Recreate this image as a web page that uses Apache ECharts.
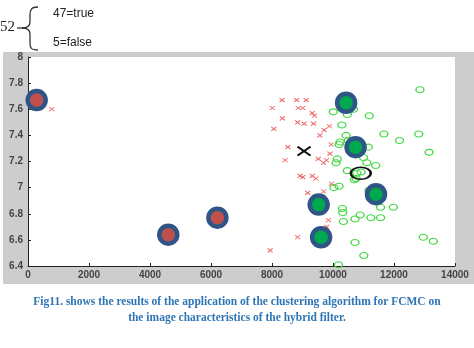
<!DOCTYPE html>
<html>
<head>
<meta charset="utf-8">
<script src="https://cdn.jsdelivr.net/npm/echarts@6/dist/echarts.min.js"></script>
<style>
  html, body { margin: 0; padding: 0; background: #fff; }
  #chart { width: 474px; height: 348px; }
</style>
</head>
<body>
<div id="chart"></div>
<script>
// axis ticks
const xTicks = [0, 2000, 4000, 6000, 8000, 10000, 12000, 14000];
const yTicks = [6.4, 6.6, 6.8, 7, 7.2, 7.4, 7.6, 7.8, 8];

// cluster 1 members (red crosses)
const redPoints = [
  [777, 7.60],
  [8010, 7.61], [8330, 7.67], [8810, 7.67], [9120, 7.67], [8860, 7.61], [9010, 7.61],
  [8340, 7.53], [8060, 7.45], [8840, 7.50], [9050, 7.49], [9320, 7.57], [9390, 7.55], [9360, 7.49],
  [9710, 7.44], [9880, 7.47], [9570, 7.40], [9940, 7.33],
  [8520, 7.31], [8430, 7.21], [9520, 7.22], [9690, 7.19], [9790, 7.21], [9900, 7.26],
  [8920, 7.09], [9010, 7.08], [9320, 7.09], [9440, 7.07], [9950, 7.03],
  [9170, 6.96], [9690, 6.97], [9850, 6.75], [9790, 6.70], [8840, 6.62], [7940, 6.52]
];

// cluster 2 members (green circles)
const greenPoints = [
  [12850, 7.75],
  [10010, 7.58], [10470, 7.56], [10670, 7.60], [11190, 7.55],
  [10290, 7.48], [10430, 7.40], [10500, 7.36], [10230, 7.35], [10200, 7.33],
  [11670, 7.41], [12180, 7.36], [12810, 7.41], [13150, 7.27],
  [11160, 7.31], [11000, 7.23], [11400, 7.17], [11110, 7.19],
  [10140, 7.22], [10100, 7.19], [10470, 7.13], [10780, 7.11], [10920, 7.12],
  [10700, 7.06], [10760, 7.07], [10030, 7.00], [10200, 7.01], [11180, 6.98],
  [10310, 6.84], [10320, 6.81], [11560, 6.85], [11980, 6.85], [10890, 6.79],
  [10720, 6.76], [11240, 6.77], [11560, 6.77], [10340, 6.74],
  [12960, 6.62], [13290, 6.59], [10720, 6.58], [11010, 6.48], [10180, 6.41]
];

// big markers
const redCentres = [[285, 7.67], [4600, 6.64], [6210, 6.77]];
const greenCentres = [[10430, 7.65], [10740, 7.31], [11410, 6.95], [9530, 6.87], [9610, 6.62]];
const crossCentre = [[9050, 7.28]];
const ringCentre = [[10910, 7.11]];

const headerTotal = '52';
const headerTrue = '47=true';
const headerFalse = '5=false';
const captionLines = [
  'Fig11. shows the results of the application of the clustering algorithm for FCMC on',
  'the image characteristics of the hybrid filter.'
];

const chart = echarts.init(document.getElementById('chart'));

const crossPath = 'path://M0,0L10,8M0,8L10,0';

const axisLabelStyle = {
  color: '#444',
  fontFamily: 'Liberation Sans',
  fontWeight: 'bold',
  fontSize: 10
};

// curly brace in the header
const braceStyle = { fill: 'none', stroke: '#333', lineWidth: 1.3 };
const brace = [
  { type: 'bezierCurve', shape: { x1: 38, y1: 7, cpx1: 31, cpy1: 7, cpx2: 30, cpy2: 10, x2: 30, y2: 15 } },
  { type: 'line', shape: { x1: 30, y1: 15, x2: 30, y2: 22 } },
  { type: 'bezierCurve', shape: { x1: 30, y1: 22, cpx1: 30, cpy1: 27, cpx2: 26, cpy2: 28, x2: 22, y2: 28 } },
  { type: 'line', shape: { x1: 22, y1: 28, x2: 17, y2: 28 } },
  { type: 'bezierCurve', shape: { x1: 22, y1: 28, cpx1: 26, cpy1: 28, cpx2: 30, cpy2: 29, x2: 30, y2: 34 } },
  { type: 'line', shape: { x1: 30, y1: 34, x2: 30, y2: 43 } },
  { type: 'bezierCurve', shape: { x1: 30, y1: 43, cpx1: 30, cpy1: 48, cpx2: 31, cpy2: 50, x2: 38, y2: 50 } }
].map(el => Object.assign(el, { style: braceStyle }));

const caption = captionLines.map((line, i) => ({
  type: 'text', left: 'center', top: 296 + i * 16,
  style: { text: line, font: 'bold 11.5px "Liberation Serif"', fill: '#2e75b6' }
}));

chart.setOption({
  animation: false,
  grid: {
    left: 28, right: 19, top: 57, bottom: 82,
    show: true, backgroundColor: '#fff', borderWidth: 0
  },
  graphic: [
    { type: 'rect', z: -10, shape: { x: 3, y: 52, width: 471, height: 232 }, style: { fill: '#cdcdcd' } },
    { type: 'text', left: 0, top: 20, style: { text: headerTotal, font: '15px "Liberation Serif"', fill: '#222' } },
    ...brace,
    { type: 'text', left: 53, top: 8, style: { text: headerTrue, font: '12px "Liberation Sans"', fill: '#222' } },
    { type: 'text', left: 53, top: 37, style: { text: headerFalse, font: '12px "Liberation Sans"', fill: '#222' } },
    ...caption
  ],
  xAxis: {
    type: 'value', min: xTicks[0], max: xTicks[xTicks.length - 1], interval: 2000,
    axisLine: { show: true, lineStyle: { color: '#222', width: 1 } },
    axisTick: { show: true, inside: true, length: 3, lineStyle: { color: '#222' } },
    axisLabel: Object.assign({ margin: 4, formatter: v => String(v) }, axisLabelStyle),
    splitLine: { show: false }
  },
  yAxis: {
    type: 'value', min: yTicks[0], max: yTicks[yTicks.length - 1], interval: 0.2,
    axisLine: { show: true, lineStyle: { color: '#222', width: 1 } },
    axisTick: { show: true, inside: true, length: 3, lineStyle: { color: '#222' } },
    axisLabel: Object.assign({ margin: 5 }, axisLabelStyle),
    splitLine: { show: false }
  },
  series: [
    {
      type: 'scatter', data: greenPoints, symbol: 'circle', symbolSize: [8, 6],
      itemStyle: { color: 'rgba(255,255,255,0)', borderColor: '#44d844', borderWidth: 1.2, opacity: 1 }
    },
    {
      type: 'scatter', data: redPoints, symbol: crossPath, symbolSize: [5, 4],
      itemStyle: { color: 'rgba(255,255,255,0)', borderColor: '#ee6a6a', borderWidth: 1, opacity: 1 }
    },
    {
      type: 'scatter', data: redCentres, symbol: 'circle', symbolSize: 18,
      itemStyle: { color: '#c0504d', borderColor: '#2f5586', borderWidth: 4.5, opacity: 1 }
    },
    {
      type: 'scatter', data: greenCentres, symbol: 'circle', symbolSize: 18,
      itemStyle: { color: '#00a84f', borderColor: '#2f5586', borderWidth: 4.5, opacity: 1 }
    },
    {
      type: 'scatter', data: crossCentre, symbol: crossPath, symbolSize: [13, 9],
      itemStyle: { color: 'rgba(255,255,255,0)', borderColor: '#111', borderWidth: 2, opacity: 1 }
    },
    {
      type: 'scatter', data: ringCentre, symbol: 'circle', symbolSize: [20, 12],
      itemStyle: { color: 'rgba(255,255,255,0)', borderColor: '#111', borderWidth: 2, opacity: 1 }
    }
  ]
});
</script>
</body>
</html>
